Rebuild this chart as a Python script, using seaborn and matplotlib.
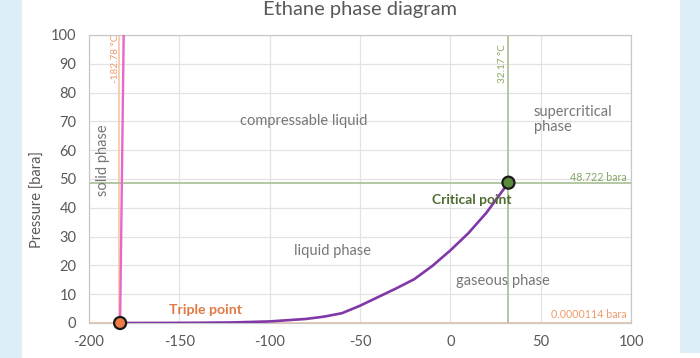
import matplotlib
matplotlib.use("Agg")
import matplotlib.pyplot as plt
from matplotlib.patches import Rectangle
import seaborn as sns
import pandas as pd

# ---- data ----
triple_T = -182.78
triple_P = 0.0000114
critical_T = 32.17
critical_P = 48.722

vapor_T = [-182.78, -160, -140, -120, -100, -80, -70, -60, -50, -40, -30,
           -20, -10, 0, 10, 20, 32.17]
vapor_P = [0.0000114, 0.02, 0.08, 0.2, 0.55, 1.4, 2.2, 3.4, 6.0, 9.0, 12.0,
           15.2, 19.8, 25.2, 31.2, 38.3, 48.722]

melt_T = [-182.78, -180.8]
melt_P = [0.0000114, 100]

x_ticks = [-200, -150, -100, -50, 0, 50, 100]
y_ticks = [0, 10, 20, 30, 40, 50, 60, 70, 80, 90, 100]

title = "Ethane phase diagram"
ylabel = "Pressure [bara]"

region_labels = ["compressable liquid", "liquid phase", "gaseous phase"]
region_T = [-81, -65, 29]
region_P = [70, 25, 14.6]

sns.set_theme(style="white")
plt.rcParams['font.family'] = ['Lato', 'DejaVu Sans']

fig = plt.figure(figsize=(7, 3.58), dpi=100)
fig.patch.set_facecolor("white")
# light blue side strips
fig.patches.append(Rectangle((0, 0), 22/700, 1, transform=fig.transFigure,
                             facecolor="#ddeef8", edgecolor="none", zorder=0))
fig.patches.append(Rectangle((680/700, 5/358), 20/700, 1, transform=fig.transFigure,
                             facecolor="#ddeef8", edgecolor="none", zorder=0))

ax = fig.add_axes([89/700, 35/358, 542/700, 288/358])
ax.set_xlim(x_ticks[0], x_ticks[-1])
ax.set_ylim(y_ticks[0], y_ticks[-1])
ax.set_xticks(x_ticks)
ax.set_yticks(y_ticks)
ax.set_xticklabels([str(v) for v in x_ticks])
ax.set_yticklabels([str(v) for v in y_ticks])
ax.tick_params(axis="both", length=0, pad=9, labelsize=10.5, labelcolor="#595959")
ax.grid(True, color="#e3e3e3", linewidth=0.9)
ax.set_axisbelow(True)
for s in ax.spines.values():
    s.set_color("#c8c8c8")
    s.set_linewidth(0.9)

# reference lines
ax.axhline(triple_P, color="#f8c6a6", lw=1.4, zorder=2)
ax.axvline(triple_T - 0.6, color="#f8c6a6", lw=1.2, zorder=2)
ax.axvline(critical_T, color="#adc49a", lw=1.3, zorder=2)
ax.axhline(critical_P, color="#adc49a", lw=1.3, zorder=2)

vap = pd.DataFrame({"T": vapor_T, "P": vapor_P})
melt = pd.DataFrame({"T": melt_T, "P": melt_P})
sns.lineplot(data=vap, x="T", y="P", ax=ax, color="#8038a8", lw=1.9,
             sort=False, zorder=4)
sns.lineplot(data=melt, x="T", y="P", ax=ax, color="#e867c8", lw=1.7,
             sort=False, zorder=4)

pts = pd.DataFrame({"T": [triple_T, critical_T], "P": [triple_P, critical_P],
                    "kind": ["triple", "critical"]})
sns.scatterplot(data=pts, x="T", y="P", hue="kind",
                palette={"triple": "#ee7d43", "critical": "#5a8a3a"},
                s=75, edgecolor="#1a1a1a", linewidth=1.6, ax=ax,
                legend=False, zorder=6, clip_on=False)

ax.set_xlabel("")
ax.set_ylabel("")

gray = "#777777"
for lab, t, p in zip(region_labels, region_T, region_P):
    ax.text(t, p, lab, ha="center", va="center", fontsize=10.5, color=gray)
ax.text(46.3, 70.6, "supercritical\nphase", ha="left", va="center",
        fontsize=10.5, color=gray, linespacing=1.15)
ax.text(-192.3, 56.5, "solid phase", rotation=90, ha="center", va="center",
        fontsize=10.5, color=gray)
ax.text(11.8, 42.7, "Critical point", ha="center", va="center", fontsize=10,
        fontweight="bold", color="#4e6b30", zorder=5)
ax.text(-135.4, 4.5, "Triple point", ha="center", va="center", fontsize=10.2,
        fontweight="bold", color="#e07a45")
ax.text(97.7, 50.6, "48.722 bara", ha="right", va="center", fontsize=7.7,
        color="#86a864")
ax.text(97.7, 3.1, "0.0000114 bara", ha="right", va="center", fontsize=7.7,
        color="#f09a6a")
ax.text(-185.6, 91.8, "-182.78 °C", rotation=90, ha="center", va="center",
        fontsize=7.2, color="#f09a6a")
ax.text(28.6, 90, "32.17 °C", rotation=90, ha="center", va="center",
        fontsize=7.2, color="#86a864")

fig.text(360/700, 1 - 10/358, title, ha="center", va="center",
         fontsize=14.5, color="#595959")
fig.text(38/700, 1 - 200/358, ylabel, rotation=90, ha="center", va="center",
         fontsize=10.5, color="#595959")

fig.savefig("out.png", dpi=100)
